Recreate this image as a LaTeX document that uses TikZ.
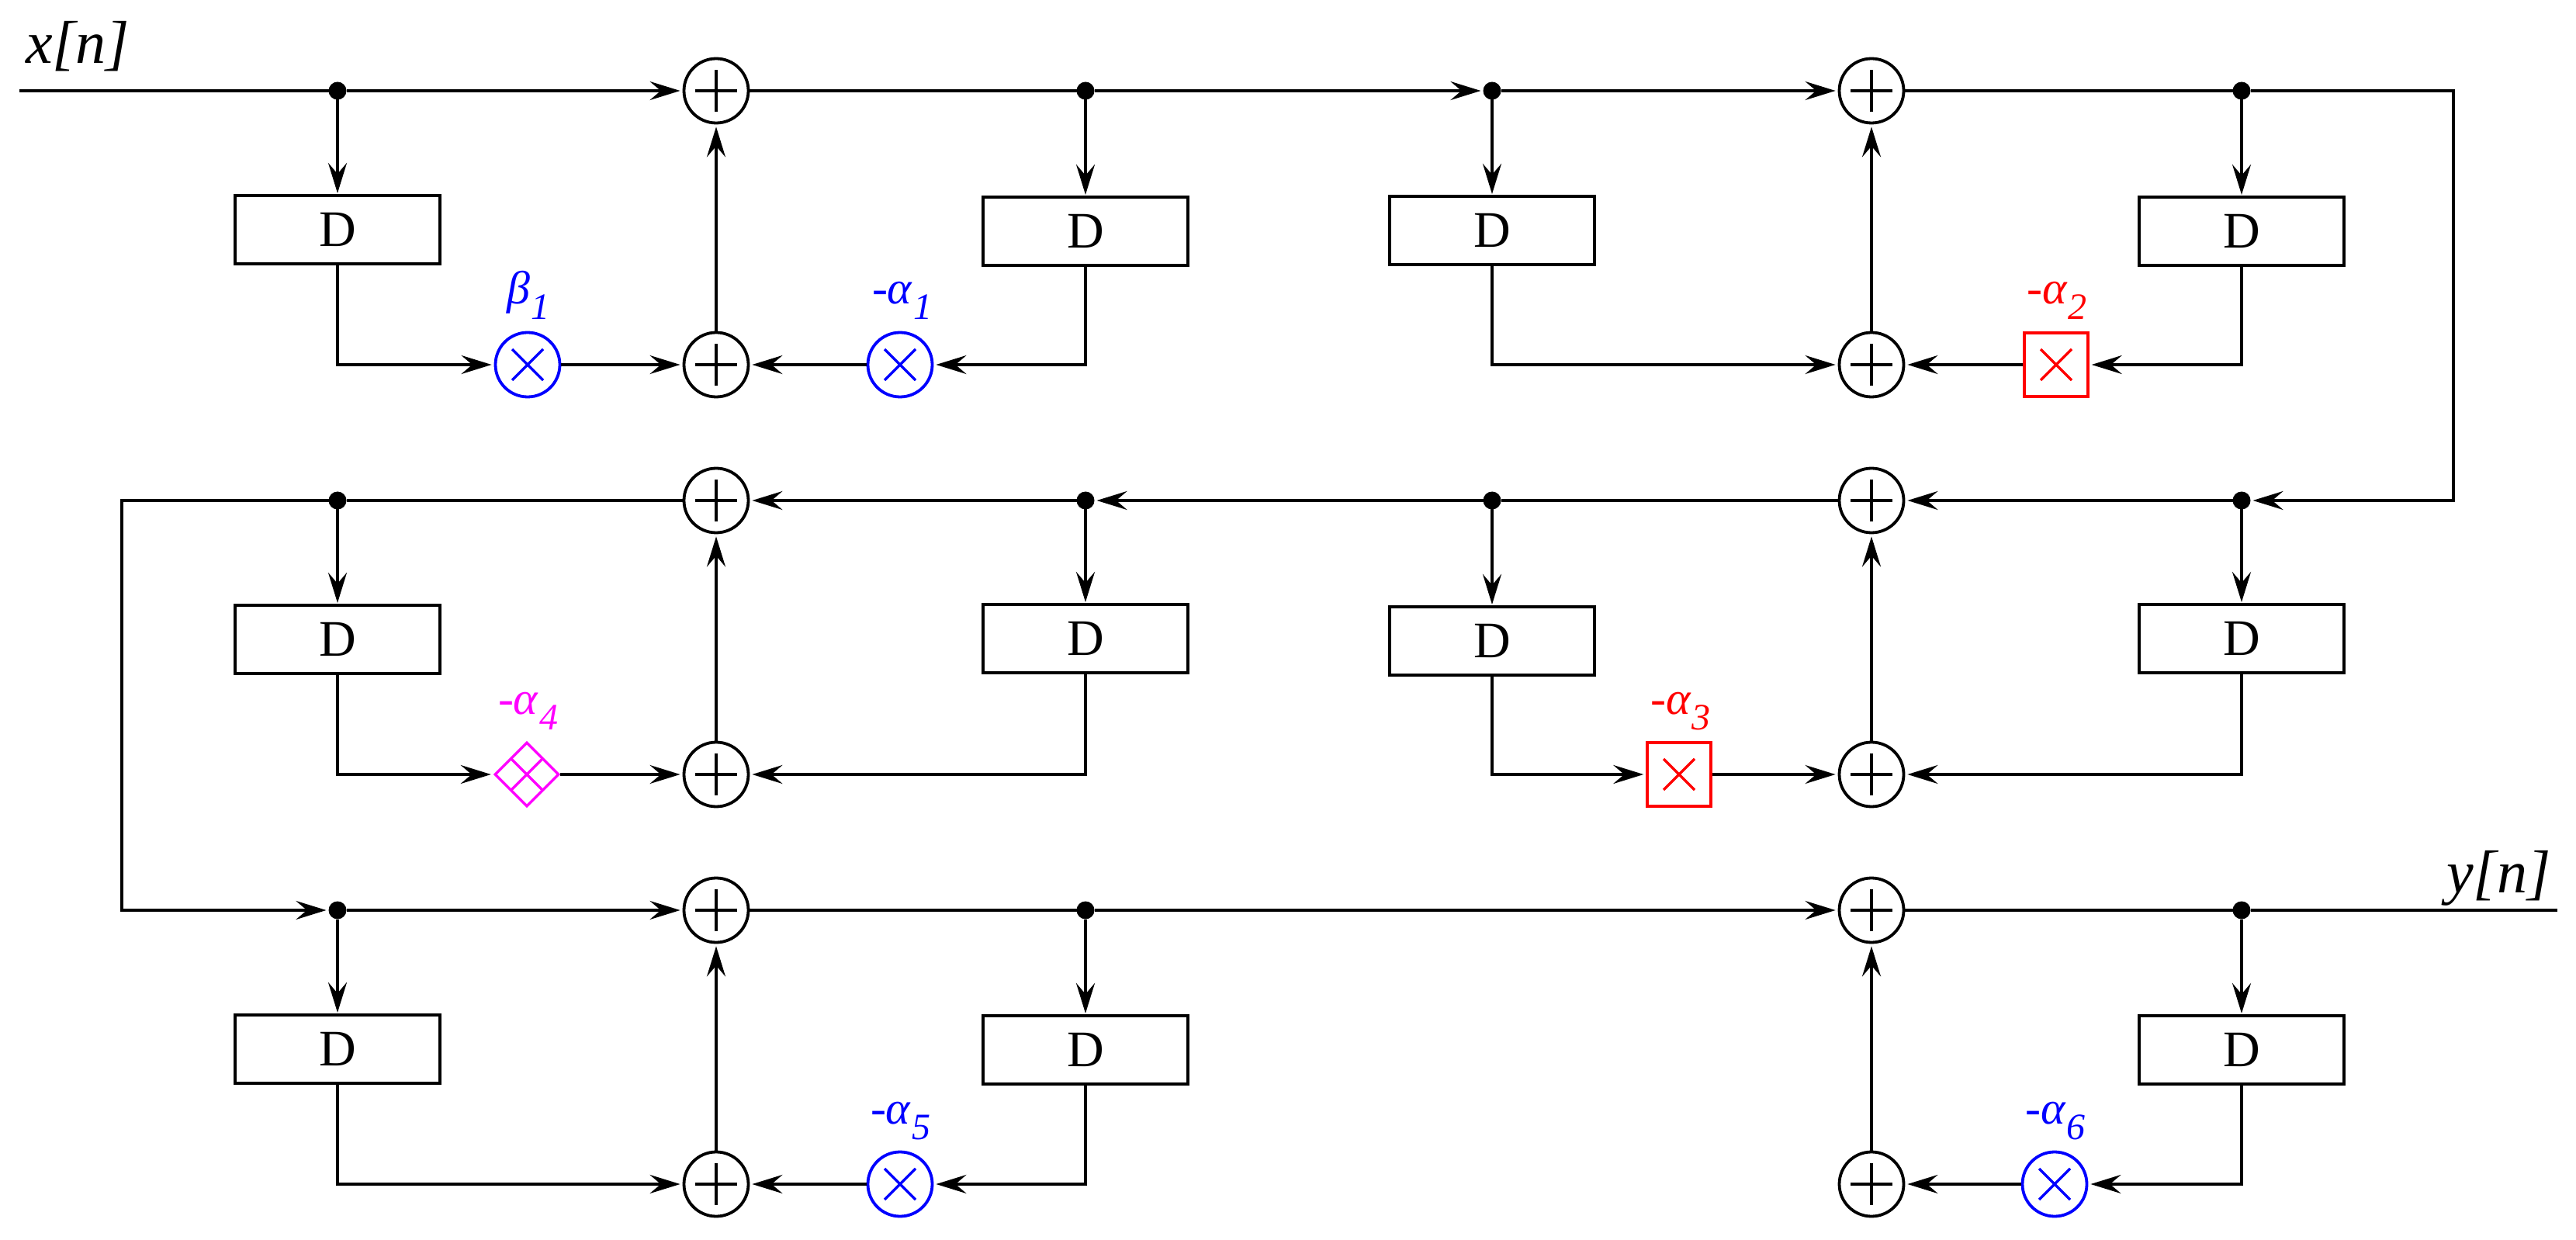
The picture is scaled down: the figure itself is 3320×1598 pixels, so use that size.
\documentclass[tikz,border=0pt]{standalone}
\usepackage{fontspec}
\setmainfont{Liberation Serif}
\usetikzlibrary{arrows.meta,shapes.geometric}
\newcommand{\coef}[2]{\fontsize{30}{30}\selectfont\itshape #1\kern1pt\raisebox{-10pt}{\fontsize{24}{24}\selectfont #2}}
\tikzset{
  wire/.style={line width=2pt},
  conn/.style={wire,-{Stealth[length=19.5pt,width=12pt,inset=7pt]},shorten >=1.5pt},
  jdot/.style={circle,fill=black,inner sep=0pt,outer sep=0pt,minimum size=11.5pt},
  dbox/.style={draw,line width=2pt,minimum width=132pt,minimum height=44pt,inner sep=0pt,outer sep=0pt,font=\fontsize{33}{33}\selectfont},
  plusmark/.style={path picture={\draw[line width=1.8pt,shift={(path picture bounding box.center)}] (-13.5pt,0pt)--(13.5pt,0pt) (0pt,-13.5pt)--(0pt,13.5pt);}},
  crossmark/.style={path picture={\draw[#1,line width=1.7pt,shift={(path picture bounding box.center)}] (-10pt,-10pt)--(10pt,10pt) (-10pt,10pt)--(10pt,-10pt);}},
  sumnode/.style={circle,draw,line width=1.9pt,minimum size=41.5pt,inner sep=0pt,plusmark},
  mulc/.style={circle,draw=blue,line width=1.9pt,minimum size=41.5pt,inner sep=0pt,crossmark=blue},
  muls/.style={rectangle,draw=red,line width=1.7pt,minimum size=41pt,inner sep=0pt,crossmark=red},
  muld/.style={diamond,aspect=1,draw=magenta,line width=1.7pt,minimum size=41.5pt,inner sep=0pt,crossmark=magenta},
  lab/.style={anchor=base west,inner sep=0pt,outer sep=0pt},
  sig/.style={lab,font=\fontsize{39}{39}\selectfont\itshape}
}
\definecolor{blue}{RGB}{0,0,255}
\definecolor{red}{RGB}{255,0,0}
\definecolor{magenta}{RGB}{255,0,255}
\begin{document}
\begin{tikzpicture}[x=0.5pt,y=-0.5pt]
\path[fill=white,use as bounding box] (0,0) rectangle (3320,1598);

% junctions
\node[jdot] (j11) at (435,117) {};
\node[jdot] (j12) at (1399,117) {};
\node[jdot] (j13) at (1923,117) {};
\node[jdot] (j14) at (2889,117) {};
\node[jdot] (j21) at (435,645) {};
\node[jdot] (j22) at (1399,645) {};
\node[jdot] (j23) at (1923,645) {};
\node[jdot] (j24) at (2889,645) {};
\node[jdot] (j31) at (435,1173) {};
\node[jdot] (j32) at (1399,1173) {};
\node[jdot] (j33) at (2889,1173) {};

% adders
\node[sumnode] (p11) at (923,117) {};
\node[sumnode] (p12) at (2412,117) {};
\node[sumnode] (s11) at (923,470) {};
\node[sumnode] (s12) at (2412,470) {};
\node[sumnode] (p21) at (923,645) {};
\node[sumnode] (p22) at (2412,645) {};
\node[sumnode] (s21) at (923,998) {};
\node[sumnode] (s22) at (2412,998) {};
\node[sumnode] (p31) at (923,1173) {};
\node[sumnode] (p32) at (2412,1173) {};
\node[sumnode] (s31) at (923,1526) {};
\node[sumnode] (s32) at (2412,1526) {};

% delays
\node[dbox] (d11) at (435,296) {D};
\node[dbox] (d12) at (1399,298) {D};
\node[dbox] (d13) at (1923,297) {D};
\node[dbox] (d14) at (2889,298) {D};
\node[dbox] (d21) at (435,824) {D};
\node[dbox] (d22) at (1399,823) {D};
\node[dbox] (d23) at (1923,826) {D};
\node[dbox] (d24) at (2889,823) {D};
\node[dbox] (d31) at (435,1352) {D};
\node[dbox] (d32) at (1399,1353) {D};
\node[dbox] (d33) at (2889,1353) {D};

% multipliers
\node[mulc] (m1) at (680,470) {};
\node[mulc] (a1) at (1160,470) {};
\node[muls] (a2) at (2650,470) {};
\node[muls] (a3) at (2164,998) {};
\node[muld] (a4) at (679,998) {};
\node[mulc] (a5) at (1160,1526) {};
\node[mulc] (a6) at (2648,1526) {};

% labels
\node[sig] (xn) at (33,82) {x[n]};
\node[sig] (yn) at (3153,1150) {y[n]};
\node[lab,text=blue] (lb1) at (653,392) {\coef{β}{1}};
\node[lab,text=blue] (la1) at (1124,392) {\coef{-α}{1}};
\node[lab,text=red] (la2) at (2612,392) {\coef{-α}{2}};
\node[lab,text=red] (la3) at (2127,920) {\coef{-α}{3}};
\node[lab,text=magenta] (la4) at (642,920) {\coef{-α}{4}};
\node[lab,text=blue] (la5) at (1122,1448) {\coef{-α}{5}};
\node[lab,text=blue] (la6) at (2610,1448) {\coef{-α}{6}};

% free ends and corners
\coordinate (in) at (25,117);
\coordinate (out) at (3296,1173);
\coordinate (cr1) at (3162,117);
\coordinate (cr2) at (3162,645);
\coordinate (cl1) at (157,645);
\coordinate (cl2) at (157,1173);

% row 1
\draw[wire] (in) -- (j11);
\draw[conn] (j11) -- (p11);
\draw[wire] (p11) -- (j12);
\draw[conn] (j12) -- (j13);
\draw[conn] (j13) -- (p12);
\draw[wire] (p12) -- (j14);
\draw[conn] (j14) -- (cr1) -- (cr2) -- (j24);
\draw[conn] (j11) -- (d11);
\draw[conn] (j12) -- (d12);
\draw[conn] (j13) -- (d13);
\draw[conn] (j14) -- (d14);
\draw[conn] (d11.south) |- (m1.west);
\draw[conn] (m1) -- (s11);
\draw[conn] (a1) -- (s11);
\draw[conn] (d12.south) |- (a1.east);
\draw[conn] (s11) -- (p11);
\draw[conn] (d13.south) |- (s12.west);
\draw[conn] (a2) -- (s12);
\draw[conn] (d14.south) |- (a2.east);
\draw[conn] (s12) -- (p12);

% row 2
\draw[conn] (j24) -- (p22);
\draw[wire] (p22) -- (j23);
\draw[conn] (j23) -- (j22);
\draw[conn] (j22) -- (p21);
\draw[wire] (p21) -- (j21);
\draw[conn] (j21) -- (cl1) -- (cl2) -- (j31);
\draw[conn] (j21) -- (d21);
\draw[conn] (j22) -- (d22);
\draw[conn] (j23) -- (d23);
\draw[conn] (j24) -- (d24);
\draw[conn] (d21.south) |- (a4.west);
\draw[conn] (a4) -- (s21);
\draw[conn] (d22.south) |- (s21.east);
\draw[conn] (s21) -- (p21);
\draw[conn] (d23.south) |- (a3.west);
\draw[conn] (a3) -- (s22);
\draw[conn] (d24.south) |- (s22.east);
\draw[conn] (s22) -- (p22);

% row 3
\draw[conn] (j31) -- (p31);
\draw[wire] (p31) -- (j32);
\draw[conn] (j32) -- (p32);
\draw[wire] (p32) -- (j33);
\draw[wire] (j33) -- (out);
\draw[conn] (j31) -- (d31);
\draw[conn] (j32) -- (d32);
\draw[conn] (j33) -- (d33);
\draw[conn] (d31.south) |- (s31.west);
\draw[conn] (a5) -- (s31);
\draw[conn] (d32.south) |- (a5.east);
\draw[conn] (s31) -- (p31);
\draw[conn] (a6) -- (s32);
\draw[conn] (d33.south) |- (a6.east);
\draw[conn] (s32) -- (p32);
\end{tikzpicture}
\end{document}
